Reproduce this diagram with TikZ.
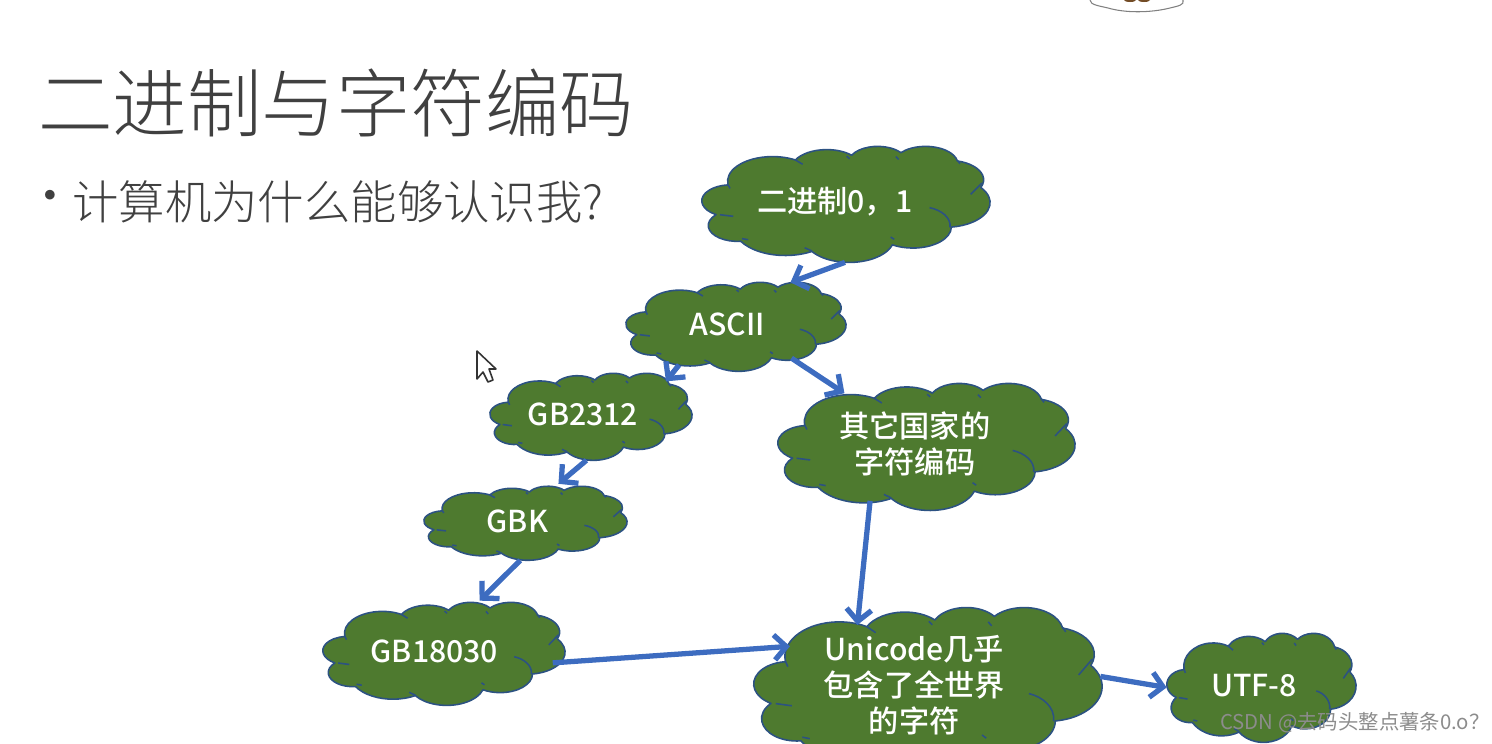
\documentclass[tikz,border=0pt]{standalone}
\usepackage{fontspec}
\setmainfont{Noto Sans CJK SC}
\newfontfamily\lightcjk[UprightFont=* Light]{Noto Sans CJK SC}
\newfontfamily\labelcjk[UprightFont=* Medium]{Noto Sans CJK SC}
\usetikzlibrary{arrows.meta,shapes.geometric}
\definecolor{cloudgreen}{RGB}{78,122,47}
\definecolor{cloudedge}{RGB}{44,82,130}
\definecolor{linkblue}{RGB}{61,108,192}
\definecolor{inkgrey}{RGB}{64,64,64}
\tikzset{
  cloudbody/.style={ellipse,inner sep=0pt},
  cloudtext/.style={text=white,align=center,font=\labelcjk\fontsize{17.2}{20.6}\selectfont},
  cloudline/.style={draw=cloudedge,line width=0.9pt},
  link/.style={draw=linkblue,line width=3pt,-{Straight Barb[length=0.24cm,width=0.5cm]}},
}
\begin{document}
\begin{tikzpicture}[x=0.02cm,y=-0.02cm,line join=round]
\useasboundingbox (0,0) rectangle (1492,744);
\clip (0,0) rectangle (1492,744);
% top of the picture
\draw[draw=gray,fill=white,line width=0.6pt] (1090,0) .. controls (1090,5) and (1100,6) .. (1108,8) .. controls (1125,13) and (1150,13) .. (1170,8) .. controls (1178,6) and (1185,5) .. (1183,0);
\fill[brown!60!black] (1130,0) ellipse [x radius=6,y radius=2] (1144,0) ellipse [x radius=6,y radius=2];
\node[anchor=west,text=inkgrey,font=\lightcjk\fontsize{42.4}{50}\selectfont,inner sep=0pt] (title) at (38,103) {二进制与字符编码};
\node[text=inkgrey,font=\fontsize{26}{30}\selectfont,inner sep=0pt] (dot) at (50,201) {•};
\node[anchor=west,text=inkgrey,font=\lightcjk\fontsize{26.4}{30}\selectfont,inner sep=0pt] (ask) at (72,202) {计算机为什么能够认识我?};
% cursor
\draw[fill=white,draw=black!80,line width=0.9pt] (477,351) -- (477,379) -- (483,372) -- (488,382) -- (493,380) -- (489,369) -- (496,369) -- cycle;
% clouds: name / left / top / width / height / text
\foreach \nm/\lx/\ty/\w/\h/\txt in {
  bin/702/146/288/116/{二进制0，1},
  asc/626/282/220/89/{ASCII},
  gbb/490/373/202/87/{GB2312},
  gbk/424/486/203/74/{GBK},
  oth/778/383/297/127/{其它国家的\\字符编码},
  gbe/323/602/242/103/{GB18030},
  uni/754/607/348/163/{Unicode几乎\\包含了全世界\\的字符},
  utf/1167/633/189/109/{UTF-8}}
{
\begin{scope}[shift={(\lx,\ty)},x=\w*0.02cm/432,y=-\h*0.02cm/432]
\draw[cloudline,fill=cloudgreen] (39,143.7)
  \foreach \rx/\ry/\sa/\da in {67.53/91.90/-187.75/128.10,53.33/72.67/-152.02/106.57,
    43.65/59.45/-153.49/116.16,48.57/65.95/-139.71/129.50,53.33/72.73/-74.77/97.98,
    67.75/92.20/-37.53/119.39,57.85/78.67/0.46/121.51,67.52/92.15/16.84/129.40,
    77.20/105.43/59.01/91.17,43.60/59.18/-276.69/139.78,43.45/59.45/-239.69/143.80}
  {arc[x radius=\rx,y radius=\ry,start angle=\sa,delta angle=\da]} -- cycle;
\foreach \ax/\ay/\bx/\by in {46.9/261.8/27/256,69.3/349/60/345,164.8/390.9/154/379,288.3/347.5/283/339,
  420/138/403/180,383.2/54.3/387/66,290.8/39.5/295/50,221.4/47.2/217/38,140/51.9/151/68,39/143.7/42/158}
  \draw[cloudline] (\ax,\ay) -- (\bx,\by);
\draw[cloudline] (341.3,229.5) .. controls (358,238) and (374,265) .. (372,303);
\node[cloudbody,minimum width=\w*0.02cm,minimum height=\h*0.02cm] (\nm) at (216,216) {};
\node[cloudtext] (\nm txt) at (199,207) {\txt};
\end{scope}
}
% links between the clouds
\draw[link] (bin.-91) -- ([shift={(5,-4)}]asc.39);
\draw[link] (asc.214.5) -- ([shift={(6,-3)}]gbb.25.6);
\draw[link] ([shift={(-8,-5)}]asc.-30.3) -- (oth.147);
\draw[link] (gbb.-96.7) -- ([shift={(3,-3.5)}]gbk.50.2);
\draw[link] (gbk.-98.5) -- ([shift={(2,-3)}]gbe.56.3);
\draw[link] ([shift={(4,-4)}]oth.224.5) -- ([shift={(10,9)}]uni.138.2);
\draw[link] ([shift={(-11,1)}]gbe.-4.5) -- ([shift={(8,2.5)}]uni.163.3);
\draw[link] (uni.4.5) -- (utf.180);
% watermark
\node[anchor=west,text=black!45,font=\fontsize{11.6}{13}\selectfont,inner sep=0pt] (mark) at (1220,723) {CSDN @去码头整点薯条0.o？};
\end{tikzpicture}
\end{document}
